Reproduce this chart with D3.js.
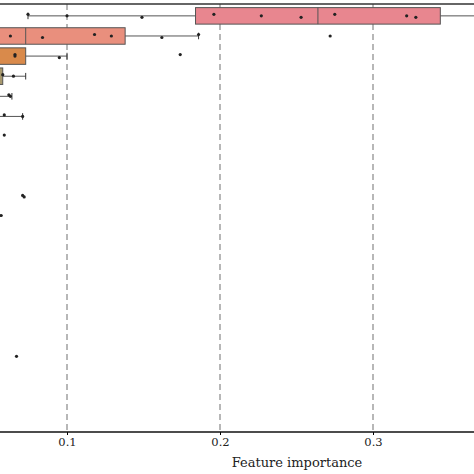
<!DOCTYPE html>
<html><head><meta charset="utf-8">
<script src="https://cdn.jsdelivr.net/npm/d3@7"></script>
<style>body{margin:0;background:#fff}svg{display:block}</style>
</head><body>
<script>
// one row per feature, top to bottom
const rows = d3.range(21);
const boxLo  = [0.184, 0.030, 0.020, 0.040, 0.020, 0.015, 0.010, 0.005, 0.005, 0.005, 0.005, 0.003, 0.003, 0.003, 0.002, 0.002, 0.002, 0.002, 0.001, 0.001, 0.001];
const boxMed = [0.264, 0.073, 0.045, 0.050, 0.030, 0.025, 0.020, 0.010, 0.010, 0.010, 0.010, 0.006, 0.006, 0.006, 0.004, 0.004, 0.004, 0.004, 0.002, 0.002, 0.002];
const boxHi  = [0.344, 0.138, 0.073, 0.058, 0.040, 0.035, 0.030, 0.015, 0.015, 0.015, 0.015, 0.010, 0.010, 0.010, 0.008, 0.008, 0.008, 0.008, 0.004, 0.004, 0.004];
const whLo   = [0.0745, 0.0, 0.0, 0.02, 0.0, 0.0, 0.0, 0.0, 0.0, 0.0, 0.0, 0.0, 0.0, 0.0, 0.0, 0.0, 0.0, 0.0, 0.0, 0.0, 0.0];
const whHi   = [0.40, 0.186, 0.100, 0.073, 0.064, 0.071, 0.045, 0.030, 0.030, 0.030, 0.030, 0.020, 0.020, 0.020, 0.015, 0.015, 0.015, 0.015, 0.008, 0.008, 0.008];
const points = [
  [0.0745, 0.1, 0.149, 0.196, 0.227, 0.253, 0.275, 0.322, 0.328],
  [0.055, 0.063, 0.084, 0.118, 0.129, 0.162, 0.186, 0.272],
  [0.066, 0.066, 0.095, 0.174],
  [0.058, 0.065],
  [0.062, 0.063],
  [0.059, 0.071],
  [0.059],
  [], [], [0.071, 0.072], [0.057], [], [], [], [], [], [], [0.067], [], [], []
];
const colors = ["#e8868f", "#e98f7d", "#d98a4b", "#a8996e", "#b8a04e", "#a7ad52", "#8fb35a",
  "#6dba6a", "#5cba85", "#55b8a0", "#55b5b8", "#5aaecb", "#6aa5d8", "#8a9be0", "#a594e0",
  "#bd8bdc", "#d585cf", "#e383bd", "#e985a9", "#e8879c", "#e88a92"];
const ticks = [0.1, 0.2, 0.3];

const W = 474, H = 474;
const svg = d3.select("body").append("svg").attr("width", W).attr("height", H);
const x = d3.scaleLinear().domain([0, 0.1]).range([-86, 67]);
const y = d3.scaleBand().domain(rows).range([4, 430]).padding(0.18);

// dashed grid
svg.append("g").selectAll("line").data(ticks).join("line")
  .attr("x1", d => x(d)).attr("x2", d => x(d)).attr("y1", 4).attr("y2", 432)
  .attr("stroke", "#888").attr("stroke-dasharray", "6,4").attr("stroke-width", 1.2);

const g = svg.append("g").selectAll("g").data(rows).join("g");
g.append("line")
  .attr("x1", i => x(whLo[i])).attr("x2", i => x(whHi[i]))
  .attr("y1", i => y(i) + y.bandwidth() / 2).attr("y2", i => y(i) + y.bandwidth() / 2)
  .attr("stroke", "#555").attr("stroke-width", 1);
g.selectAll(".cap").data(i => [[i, whLo[i]], [i, whHi[i]]]).join("line")
  .attr("x1", d => x(d[1])).attr("x2", d => x(d[1]))
  .attr("y1", d => y(d[0]) + y.bandwidth() * 0.3).attr("y2", d => y(d[0]) + y.bandwidth() * 0.7)
  .attr("stroke", "#333");
g.append("rect")
  .attr("x", i => x(boxLo[i])).attr("width", i => x(boxHi[i]) - x(boxLo[i]))
  .attr("y", i => y(i)).attr("height", y.bandwidth())
  .attr("fill", i => colors[i]).attr("stroke", "#555").attr("stroke-width", 1);
g.append("line")
  .attr("x1", i => x(boxMed[i])).attr("x2", i => x(boxMed[i]))
  .attr("y1", i => y(i)).attr("y2", i => y(i) + y.bandwidth())
  .attr("stroke", "#555");
g.selectAll("circle").data(i => points[i].map((v, k) => [i, v, k])).join("circle")
  .attr("cx", d => x(d[1]))
  .attr("cy", d => y(d[0]) + y.bandwidth() / 2 + ((d[2] % 3) - 1) * 1.5)
  .attr("r", 1.6).attr("fill", "#222");

// frame
svg.append("line").attr("x1", 0).attr("x2", W).attr("y1", 4).attr("y2", 4)
  .attr("stroke", "#333").attr("stroke-width", 1.5);
const ax = svg.append("g").attr("transform", "translate(0,432)")
  .call(d3.axisBottom(x).tickValues(ticks).tickFormat(d3.format(".1f")).tickSize(3));
ax.select(".domain").remove();
ax.append("line").attr("x1", 0).attr("x2", W).attr("stroke", "#111").attr("stroke-width", 1.5);
ax.selectAll("text").attr("font-family", "DejaVu Serif").attr("font-size", 11.5).attr("fill", "#222");
svg.append("text").attr("x", 297).attr("y", 467).attr("text-anchor", "middle")
  .attr("font-family", "DejaVu Serif").attr("font-size", 13).attr("fill", "#222")
  .text("Feature importance");
</script>
</body></html>
